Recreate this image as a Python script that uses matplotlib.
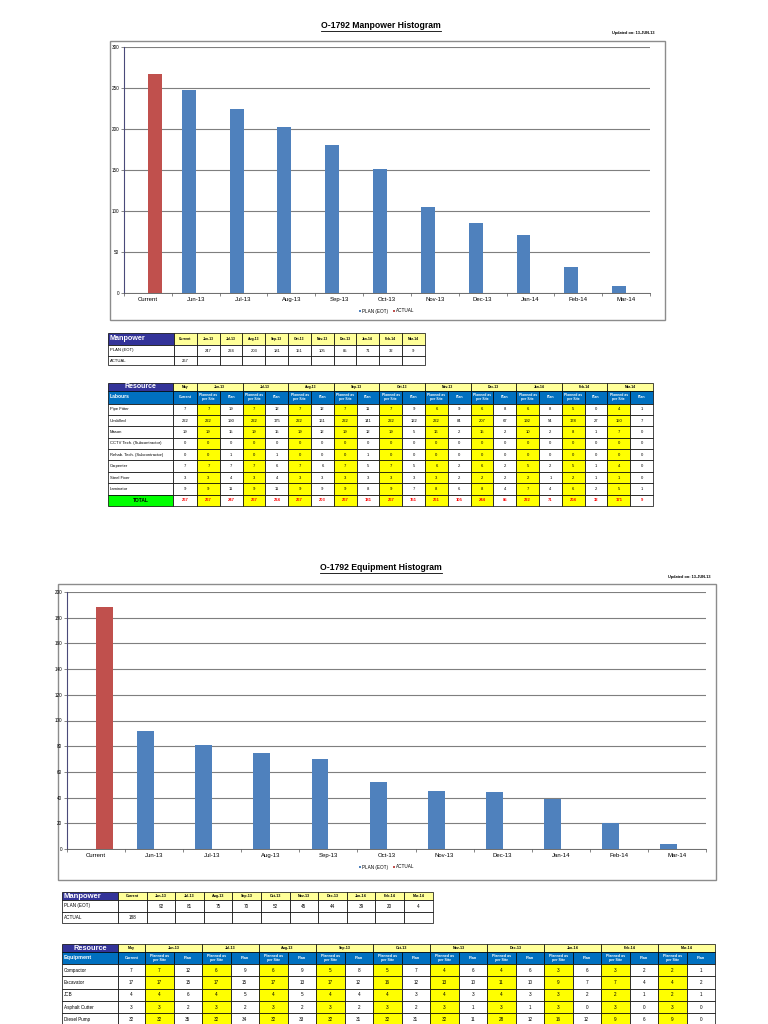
import matplotlib
matplotlib.use('Agg')
import matplotlib.pyplot as plt
from matplotlib.patches import Rectangle
import numpy as np

plt.rcParams['font.family'] = ['Liberation Sans', 'DejaVu Sans']

# ---- data ----
months = ['Jun-13', 'Jul-13', 'Aug-13', 'Sep-13', 'Oct-13', 'Nov-13',
          'Dec-13', 'Jan-14', 'Feb-14', 'Mar-14']
categories = ['Current'] + months

mp_plan = [247, 224, 203, 181, 151, 105, 85, 71, 32, 9]
mp_actual = 267
eq_plan = [92, 81, 75, 70, 52, 45, 44, 39, 20, 4]
eq_actual = 188

labours = ['Pipe Fitter', 'Unskilled', 'Mason', 'CCTV Tech. (Subcontractor)',
           'Rehab. Tech. (Subcontractor)', 'Carpenter', 'Steel Fixer', 'Laminator']
labour_current = [7, 222, 19, 0, 0, 7, 3, 9]
labour_site = [
    [7, 7, 7, 7, 7, 6, 6, 6, 5, 4],
    [222, 222, 222, 222, 222, 222, 207, 192, 178, 150],
    [19, 19, 19, 19, 19, 16, 15, 10, 8, 7],
    [0, 0, 0, 0, 0, 0, 0, 0, 0, 0],
    [0, 0, 0, 0, 0, 0, 0, 0, 0, 0],
    [7, 7, 7, 7, 7, 6, 6, 5, 5, 4],
    [3, 3, 3, 3, 3, 3, 2, 2, 2, 1],
    [9, 9, 9, 9, 9, 8, 8, 7, 6, 5],
]
labour_plan = [
    [19, 12, 12, 11, 9, 9, 8, 8, 0, 1],
    [190, 175, 161, 141, 122, 84, 67, 54, 27, 7],
    [15, 15, 12, 12, 5, 2, 2, 2, 1, 0],
    [0, 0, 0, 0, 0, 0, 0, 0, 0, 0],
    [1, 1, 0, 1, 0, 0, 0, 0, 0, 0],
    [7, 6, 6, 5, 5, 2, 2, 2, 1, 0],
    [4, 4, 3, 3, 3, 2, 2, 1, 1, 0],
    [11, 11, 9, 8, 7, 6, 4, 4, 2, 1],
]

equipment = ['Compactor', 'Excavator', 'JCB', 'Asphalt Cutter', 'Diesel Pump']
equip_current = [7, 17, 4, 3, 32]
equip_site = [
    [7, 6, 6, 5, 5, 4, 4, 3, 3, 2],
    [17, 17, 17, 17, 16, 13, 11, 9, 7, 4],
    [4, 4, 4, 4, 4, 4, 4, 3, 2, 2],
    [3, 3, 3, 3, 3, 3, 3, 3, 3, 3],
    [32, 32, 32, 32, 32, 32, 28, 16, 9, 9],
]
equip_plan = [
    [12, 9, 9, 8, 7, 6, 6, 6, 2, 1],
    [15, 15, 13, 12, 12, 10, 10, 7, 4, 2],
    [6, 5, 5, 4, 3, 3, 3, 2, 1, 1],
    [2, 2, 2, 2, 2, 1, 1, 0, 0, 0],
    [35, 34, 33, 31, 31, 11, 12, 12, 6, 0],
]

BLUE = '#4F81BD'
RED = '#C0504D'
NAVY = '#333399'
HDR_BLUE = '#0070C0'
PALE_YELLOW = '#FFFF99'
YELLOW = '#FFFF00'
GREEN = '#00FF00'

W, H = 768, 1024
fig = plt.figure(figsize=(W / 100, H / 100), dpi=100)
fig.patch.set_facecolor('white')

canvas = fig.add_axes([0, 0, 1, 1], zorder=0)
canvas.set_xlim(0, W)
canvas.set_ylim(H, 0)
canvas.axis('off')


def px_axes(x0, y0, x1, y1):
    return fig.add_axes([x0 / W, 1 - y1 / H, (x1 - x0) / W, (y1 - y0) / H], zorder=2)


def underlined_title(x, y, text, size):
    t = canvas.text(x, y, text, ha='center', va='center', fontsize=size, fontweight='bold')
    fig.canvas.draw()
    bb = t.get_window_extent().transformed(canvas.transData.inverted())
    canvas.plot([bb.x0, bb.x1], [bb.y0 + 0.5, bb.y0 + 0.5], color='black', lw=0.6)


def histogram(box, plot, plan, actual, ymax, step, legend_y):
    bx0, by0, bx1, by1 = box
    canvas.add_patch(Rectangle((bx0, by0), bx1 - bx0, by1 - by0, fill=False,
                               ec='#8c8c8c', lw=1.0))
    ax = px_axes(*plot)
    ax.set_facecolor('none')
    x = np.arange(len(categories))
    ax.bar(x[1:] - 0.145, plan, 0.29, color=BLUE, label='PLAN (EOT)', zorder=3)
    ax.bar(x[0] + 0.145, actual, 0.29, color=RED, label='ACTUAL', zorder=3)
    ax.set_xlim(-0.5, len(categories) - 0.5)
    ax.set_ylim(0, ymax)
    ax.set_yticks(np.arange(0, ymax + 1, step))
    ax.set_xticks(x)
    ax.set_xticklabels(categories, fontsize=4.3)
    ax.set_xticks(np.arange(-0.5, len(categories), 1), minor=True)
    ax.tick_params(axis='x', which='major', length=0, pad=3)
    ax.tick_params(axis='x', which='minor', length=2, width=0.5, color='#555555')
    ax.tick_params(axis='y', labelsize=3.3, length=2, width=0.5, pad=1.5, color='#555555')
    ax.grid(axis='y', color='#7f7f7f', lw=0.8, zorder=0)
    for s in ['top', 'right']:
        ax.spines[s].set_visible(False)
    ax.spines['left'].set_color('#4a4a7a')
    ax.spines['left'].set_linewidth(0.8)
    ax.spines['bottom'].set_color('#555555')
    ax.spines['bottom'].set_linewidth(0.6)
    ax.legend(loc='center', bbox_to_anchor=((plot[0] + plot[2]) / 2 / W, 1 - legend_y / H),
              bbox_transform=fig.transFigure, ncol=2, fontsize=3.3, frameon=False,
              handlelength=0.5, handleheight=0.5, handletextpad=0.2, columnspacing=1.0)
    return ax


def cell(x, y, w, h, text='', fc='white', color='black', bold=False, ha='center',
         size=3.3, lw=0.5):
    canvas.add_patch(Rectangle((x, y), w, h, fc=fc, ec='black', lw=lw))
    if text != '':
        tx = x + w / 2 if ha == 'center' else x + 1.5
        canvas.text(tx, y + h / 2, str(text), ha=ha, va='center', fontsize=size,
                    color=color, fontweight='bold' if bold else 'normal',
                    linespacing=0.9)


def summary_table(x0, y0, first_w, col_w, rows_h, plan, actual, size):
    h0, h1, h2 = rows_h
    cell(x0, y0, first_w, h0, 'Manpower', NAVY, 'white', True, 'left', size + 2.2)
    for i, c in enumerate(categories):
        cell(x0 + first_w + i * col_w, y0, col_w, h0, c, PALE_YELLOW, bold=True,
             size=size * 0.8)
    y1 = y0 + h0
    cell(x0, y1, first_w, h1, 'PLAN (EOT)', ha='left', size=size)
    cell(x0 + first_w, y1, col_w, h1)
    for i, v in enumerate(plan):
        cell(x0 + first_w + (i + 1) * col_w, y1, col_w, h1, v, size=size)
    y2 = y1 + h1
    cell(x0, y2, first_w, h2, 'ACTUAL', ha='left', size=size)
    cell(x0 + first_w, y2, col_w, h2, actual, size=size)
    for i in range(len(plan)):
        cell(x0 + first_w + (i + 1) * col_w, y2, col_w, h2)


def resource_table(x0, y0, first_w, cur_w, sub_w, hdr_h, row_h, kind, names,
                   current, site, plan, with_total, size):
    h0, h1 = hdr_h
    cell(x0, y0, first_w, h0, 'Resource', NAVY, 'white', True, size=size + 2)
    cell(x0 + first_w, y0, cur_w, h0, 'May', PALE_YELLOW, bold=True, size=size * 0.8)
    for i, m in enumerate(months):
        cell(x0 + first_w + cur_w + 2 * i * sub_w, y0, 2 * sub_w, h0, m, PALE_YELLOW,
             bold=True, size=size * 0.8)
    y = y0 + h0
    cell(x0, y, first_w, h1, kind, HDR_BLUE, 'white', True, 'left', size + 0.6)
    cell(x0 + first_w, y, cur_w, h1, 'Current', HDR_BLUE, 'white', True, size=size * 0.85)
    for i in range(len(months)):
        xs = x0 + first_w + cur_w + 2 * i * sub_w
        cell(xs, y, sub_w, h1, 'Planned as\nper Site', HDR_BLUE, 'white', True,
             size=size * 0.8)
        cell(xs + sub_w, y, sub_w, h1, 'Plan', HDR_BLUE, 'white', True, size=size * 0.85)
    y += h1
    for r, name in enumerate(names):
        cell(x0, y, first_w, row_h, name, ha='left', size=size)
        cell(x0 + first_w, y, cur_w, row_h, current[r], size=size)
        for i in range(len(months)):
            xs = x0 + first_w + cur_w + 2 * i * sub_w
            cell(xs, y, sub_w, row_h, site[r][i], YELLOW, size=size)
            cell(xs + sub_w, y, sub_w, row_h, plan[r][i], size=size)
        y += row_h
    if with_total:
        cell(x0, y, first_w, row_h, 'TOTAL', GREEN, bold=True, size=size + 0.5)
        cell(x0 + first_w, y, cur_w, row_h, sum(current), color='red', bold=True, size=size)
        for i in range(len(months)):
            xs = x0 + first_w + cur_w + 2 * i * sub_w
            cell(xs, y, sub_w, row_h, sum(s[i] for s in site), YELLOW, 'red', True, size=size)
            cell(xs + sub_w, y, sub_w, row_h, sum(p[i] for p in plan), color='red',
                 bold=True, size=size)


# ---- manpower section ----
underlined_title(381, 26, 'O-1792 Manpower Histogram', 6.2)
canvas.text(655, 33, 'Updated on: 13-JUN-13', ha='right', va='center', fontsize=2.8,
            fontweight='bold')
histogram((110, 41, 665, 320), (124, 47, 650, 293), mp_plan, mp_actual, 300, 50, 311)
summary_table(108, 333, 66, 22.8, (12, 11, 9), mp_plan, mp_actual, 3.0)
resource_table(108, 383, 65, 24, 22.8, (7.5, 13), 11.4, 'Labours', labours,
               labour_current, labour_site, labour_plan, True, 3.0)

# ---- equipment section ----
underlined_title(381, 568, 'O-1792 Equipment Histogram', 6.2)
canvas.text(710, 577, 'Updated on: 13-JUN-13', ha='right', va='center', fontsize=2.8,
            fontweight='bold')
histogram((58, 584, 716, 880), (67, 592, 706, 849), eq_plan, eq_actual, 200, 20, 867)
summary_table(62, 892, 56, 28.6, (8, 12, 11), eq_plan, eq_actual, 3.3)
resource_table(62, 944, 56, 27, 28.5, (8, 12), 12.3, 'Equipment', equipment,
               equip_current, equip_site, equip_plan, False, 3.3)

fig.savefig('out.png', dpi=100, facecolor='white')
